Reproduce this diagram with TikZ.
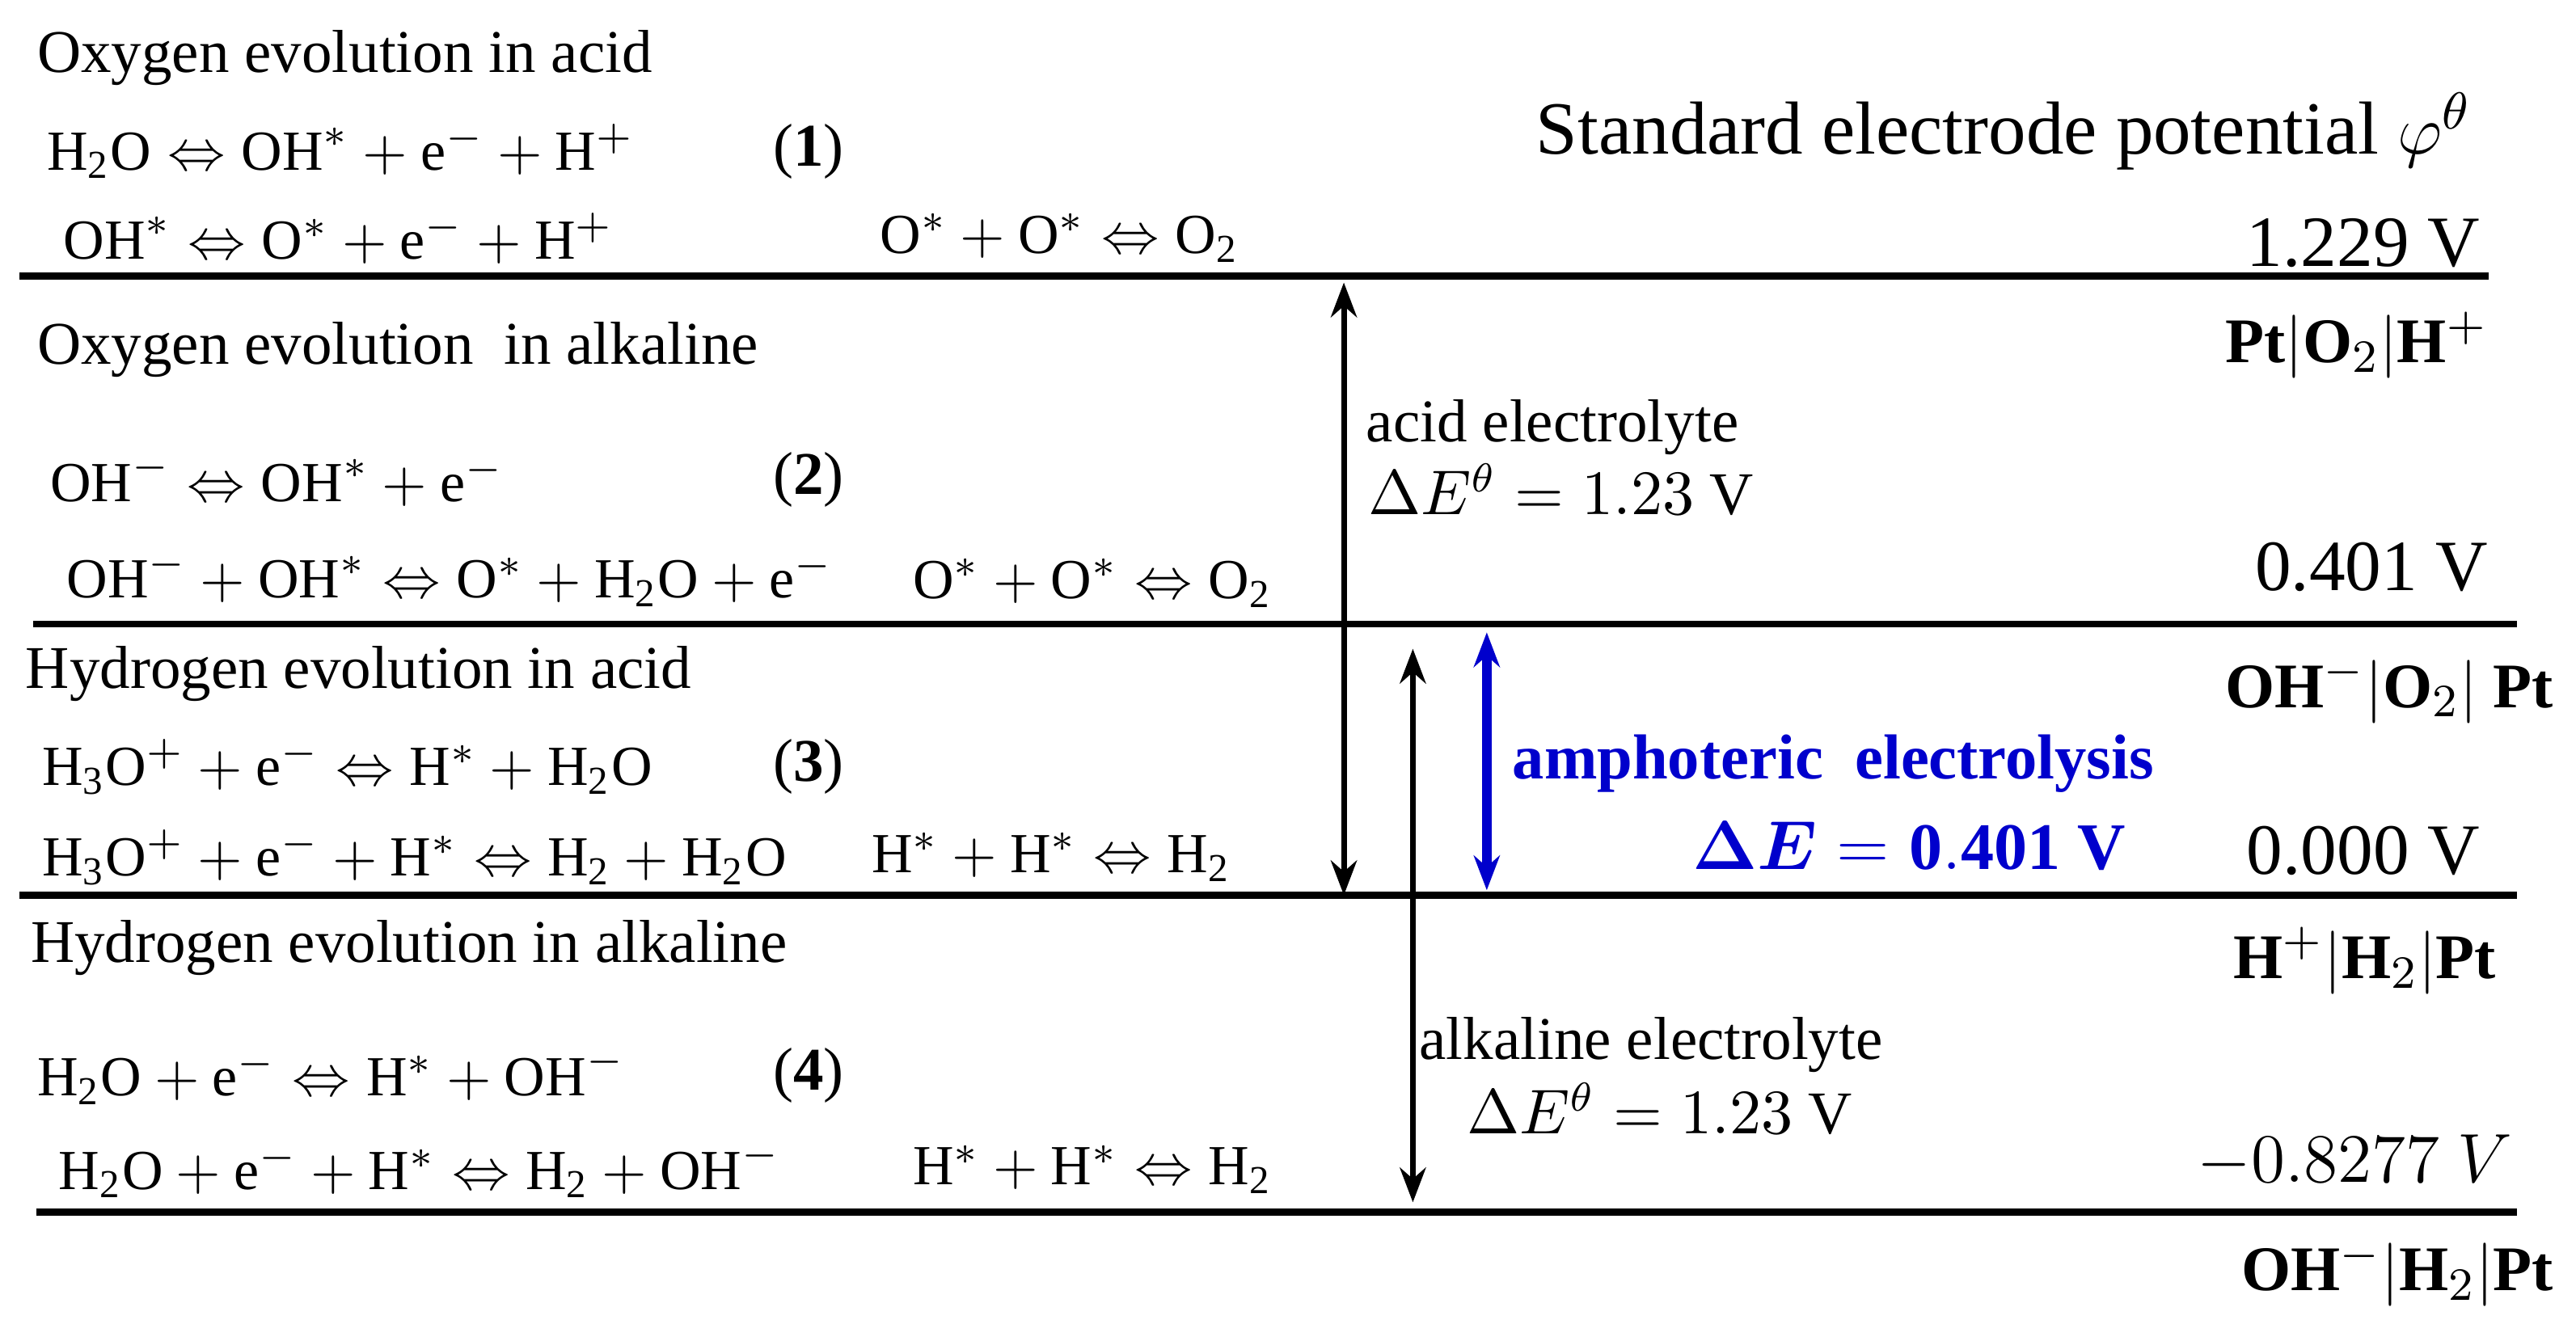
\documentclass[tikz,border=0pt]{standalone}
\usepackage{amsmath,bm}
\usepackage{fontspec}
\setmainfont{Liberation Serif}
\usetikzlibrary{arrows.meta}
\begin{document}
\begin{tikzpicture}[x=0.01cm,y=-0.01cm,
  t/.style={anchor=west,inner sep=0,font=\fontsize{10.5}{12}\selectfont},
  eq/.style={anchor=west,inner sep=0,font=\fontsize{9.8}{12}\selectfont},
  r/.style={anchor=east,inner sep=0,font=\fontsize{12.5}{14}\selectfont},
  rb/.style={anchor=east,inner sep=0,font=\fontsize{11}{13}\selectfont\bfseries},
  lvl/.style={line width=1.2pt},
  dar/.style={{Stealth[length=6pt]}-{Stealth[length=6pt]},line width=1pt},
  blue/.style={text=blue!80!black}]
\useasboundingbox (0,0) rectangle (1568,814);
\coordinate (l1a) at (12,168); \coordinate (l1b) at (1515,168);
\coordinate (l2a) at (20,380); \coordinate (l2b) at (1532,380);
\coordinate (l3a) at (12,545); \coordinate (l3b) at (1532,545);
\coordinate (l4a) at (22,738); \coordinate (l4b) at (1532,738);
\draw[lvl] (l1a)--(l1b); \draw[lvl] (l2a)--(l2b);
\draw[lvl] (l3a)--(l3b); \draw[lvl] (l4a)--(l4b);
% arrows
\coordinate (a1) at (818,172); \coordinate (a2) at (818,545);
\draw[dar] (a1)--(a2);
\coordinate (b1) at (860,395); \coordinate (b2) at (860,732);
\draw[dar] (b1)--(b2);
\coordinate (c1) at (905,385); \coordinate (c2) at (905,542);
\draw[dar,draw=blue!80!black,line width=1.6pt] (c1)--(c2);
% left texts
\node[t] (o1) at (22,35) {Oxygen evolution in acid};
\node[eq] (e1) at (28,92) {$\mathrm{H_2O}\Leftrightarrow\mathrm{OH}^{*}+\mathrm{e}^{-}+\mathrm{H}^{+}$};
\node[t] (n1) at (470,92) {(\textbf{1})};
\node[eq] (e1b) at (38,145) {$\mathrm{OH}^{*}\Leftrightarrow\mathrm{O}^{*}+\mathrm{e}^{-}+\mathrm{H}^{+}$};
\node[eq] (e1c) at (535,145) {$\mathrm{O}^{*}+\mathrm{O}^{*}\Leftrightarrow\mathrm{O_2}$};
\node[t] (o2) at (22,213) {Oxygen evolution\ \ in alkaline};
\node[eq] (e2) at (30,292) {$\mathrm{OH}^{-}\Leftrightarrow\mathrm{OH}^{*}+\mathrm{e}^{-}$};
\node[t] (n2) at (470,292) {(\textbf{2})};
\node[eq] (e2b) at (40,352) {$\mathrm{OH}^{-}+\mathrm{OH}^{*}\Leftrightarrow\mathrm{O}^{*}+\mathrm{H_2O}+\mathrm{e}^{-}$};
\node[eq] (e2c) at (555,355) {$\mathrm{O}^{*}+\mathrm{O}^{*}\Leftrightarrow\mathrm{O_2}$};
\node[t] (h1) at (15,410) {Hydrogen evolution in acid};
\node[eq] (e3) at (25,467) {$\mathrm{H_3O^{+}}+\mathrm{e}^{-}\Leftrightarrow\mathrm{H}^{*}+\mathrm{H_2O}$};
\node[t] (n3) at (470,467) {(\textbf{3})};
\node[eq] (e3b) at (25,522) {$\mathrm{H_3O^{+}}+\mathrm{e}^{-}+\mathrm{H}^{*}\Leftrightarrow\mathrm{H_2}+\mathrm{H_2O}$};
\node[eq] (e3c) at (530,522) {$\mathrm{H}^{*}+\mathrm{H}^{*}\Leftrightarrow\mathrm{H_2}$};
\node[t] (h2) at (18,577) {Hydrogen evolution in alkaline};
\node[eq] (e4) at (22,655) {$\mathrm{H_2O}+\mathrm{e}^{-}\Leftrightarrow\mathrm{H}^{*}+\mathrm{OH}^{-}$};
\node[t] (n4) at (470,655) {(\textbf{4})};
\node[eq] (e4b) at (35,712) {$\mathrm{H_2O}+\mathrm{e}^{-}+\mathrm{H}^{*}\Leftrightarrow\mathrm{H_2}+\mathrm{OH}^{-}$};
\node[eq] (e4c) at (555,712) {$\mathrm{H}^{*}+\mathrm{H}^{*}\Leftrightarrow\mathrm{H_2}$};
% middle labels
\node[t,anchor=center] (ae) at (945,260) {acid electrolyte};
\node[t,anchor=center] (ae2) at (950,298) {$\Delta E^{\theta}=1.23$ V};
\node[t,anchor=center] (al) at (1005,636) {alkaline electrolyte};
\node[t,anchor=center] (al2) at (1010,675) {$\Delta E^{\theta}=1.23$ V};
\node[t,blue,font=\fontsize{11}{13}\selectfont\bfseries] (am) at (920,465) {amphoteric\ \ electrolysis};
\node[t,blue,anchor=center,font=\fontsize{11.5}{13}\selectfont\bfseries] (am2) at (1162,515) {$\bm{\Delta E}=\mathbf{0.401\ V}$};
% right column
\node[r,font=\fontsize{13}{15}\selectfont] (sp) at (1505,80) {Standard electrode potential $\varphi^{\theta}$};
\node[r] (v1) at (1510,148) {1.229 V};
\node[rb] (p1) at (1515,210) {Pt$|$O$_2|$H$^+$};
\node[r] (v2) at (1515,345) {0.401 V};
\node[rb] (p2) at (1555,420) {OH$^-|$O$_2|$ Pt};
\node[r] (v3) at (1510,518) {0.000 V};
\node[rb] (p3) at (1520,585) {H$^+|$H$_2|$Pt};
\node[r] (v4) at (1530,707) {$-0.8277\ V$};
\node[rb] (p4) at (1555,775) {OH$^-|$H$_2|$Pt};
\end{tikzpicture}
\end{document}
